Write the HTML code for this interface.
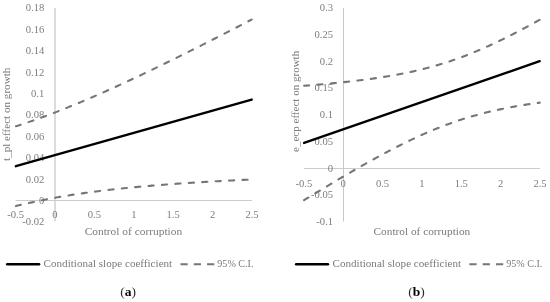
<!DOCTYPE html>
<html><head><meta charset="utf-8"><style>
html,body{margin:0;padding:0;background:#fff;}
svg{display:block;}
.tk{font-family:'Liberation Serif', serif;font-size:10.6px;fill:#7d7d7d;}
.tt{font-family:'Liberation Serif', serif;font-size:11px;fill:#7a7a7a;}
.cap{font-family:'Liberation Serif', serif;font-size:13.5px;fill:#2a2a2a;}
</style></head><body>
<svg width="550" height="302" viewBox="0 0 550 302">
<rect width="550" height="302" fill="#fff"/>
<g>
<line x1="55" y1="8" x2="55" y2="221.2" stroke="#b8b8b8" stroke-width="1"/>
<line x1="15.6" y1="200.5" x2="252" y2="200.5" stroke="#cccccc" stroke-width="1"/>
<text x="44.3" y="225.30" text-anchor="end" class="tk" textLength="22.08" lengthAdjust="spacingAndGlyphs">-0.02</text>
<text x="44.3" y="203.90" text-anchor="end" class="tk" textLength="5.30" lengthAdjust="spacingAndGlyphs">0</text>
<text x="44.3" y="182.50" text-anchor="end" class="tk" textLength="18.55" lengthAdjust="spacingAndGlyphs">0.02</text>
<text x="44.3" y="161.10" text-anchor="end" class="tk" textLength="18.55" lengthAdjust="spacingAndGlyphs">0.04</text>
<text x="44.3" y="139.70" text-anchor="end" class="tk" textLength="18.55" lengthAdjust="spacingAndGlyphs">0.06</text>
<text x="44.3" y="118.30" text-anchor="end" class="tk" textLength="18.55" lengthAdjust="spacingAndGlyphs">0.08</text>
<text x="44.3" y="96.90" text-anchor="end" class="tk" textLength="13.25" lengthAdjust="spacingAndGlyphs">0.1</text>
<text x="44.3" y="75.50" text-anchor="end" class="tk" textLength="18.55" lengthAdjust="spacingAndGlyphs">0.12</text>
<text x="44.3" y="54.10" text-anchor="end" class="tk" textLength="18.55" lengthAdjust="spacingAndGlyphs">0.14</text>
<text x="44.3" y="32.70" text-anchor="end" class="tk" textLength="18.55" lengthAdjust="spacingAndGlyphs">0.16</text>
<text x="44.3" y="11.30" text-anchor="end" class="tk" textLength="18.55" lengthAdjust="spacingAndGlyphs">0.18</text>
<text x="15.60" y="218.20" text-anchor="middle" class="tk" textLength="16.78" lengthAdjust="spacingAndGlyphs">-0.5</text>
<text x="55.00" y="218.20" text-anchor="middle" class="tk" textLength="5.30" lengthAdjust="spacingAndGlyphs">0</text>
<text x="94.40" y="218.20" text-anchor="middle" class="tk" textLength="13.25" lengthAdjust="spacingAndGlyphs">0.5</text>
<text x="133.80" y="218.20" text-anchor="middle" class="tk" textLength="5.30" lengthAdjust="spacingAndGlyphs">1</text>
<text x="173.20" y="218.20" text-anchor="middle" class="tk" textLength="13.25" lengthAdjust="spacingAndGlyphs">1.5</text>
<text x="212.60" y="218.20" text-anchor="middle" class="tk" textLength="5.30" lengthAdjust="spacingAndGlyphs">2</text>
<text x="252.00" y="218.20" text-anchor="middle" class="tk" textLength="13.25" lengthAdjust="spacingAndGlyphs">2.5</text>
<text x="133.4" y="234.9" text-anchor="middle" class="tt" textLength="97.5" lengthAdjust="spacingAndGlyphs">Control of corruption</text>
<text transform="translate(10.1,114.35) rotate(-90)" x="0" y="0" text-anchor="middle" class="tt" textLength="93.3" lengthAdjust="spacingAndGlyphs">t_pl effect on growth</text>
<path d="M15.90,126.27 L17.90,125.63 L19.90,124.98 L21.90,124.33 L23.90,123.66 L25.90,122.99 L27.90,122.32 L29.90,121.63 L31.90,120.94 L33.90,120.24 L35.90,119.54 L37.90,118.83 L39.90,118.11 L41.90,117.38 L43.90,116.65 L45.90,115.92 L47.90,115.17 L49.90,114.42 L51.90,113.66 L53.90,112.90 L55.90,112.13 L57.90,111.36 L59.90,110.58 L61.90,109.79 L63.90,109.00 L65.90,108.20 L67.90,107.40 L69.90,106.59 L71.90,105.78 L73.90,104.96 L75.90,104.14 L77.90,103.31 L79.90,102.47 L81.90,101.63 L83.90,100.79 L85.90,99.94 L87.90,99.09 L89.90,98.23 L91.90,97.37 L93.90,96.50 L95.90,95.63 L97.90,94.76 L99.90,93.88 L101.90,92.99 L103.90,92.11 L105.90,91.21 L107.90,90.32 L109.90,89.42 L111.90,88.52 L113.90,87.61 L115.90,86.70 L117.90,85.79 L119.90,84.87 L121.90,83.96 L123.90,83.03 L125.90,82.11 L127.90,81.18 L129.90,80.25 L131.90,79.31 L133.90,78.37 L135.90,77.43 L137.90,76.49 L139.90,75.54 L141.90,74.59 L143.90,73.64 L145.90,72.69 L147.90,71.73 L149.90,70.77 L151.90,69.81 L153.90,68.84 L155.90,67.88 L157.90,66.91 L159.90,65.94 L161.90,64.96 L163.90,63.99 L165.90,63.01 L167.90,62.03 L169.90,61.05 L171.90,60.06 L173.90,59.08 L175.90,58.09 L177.90,57.10 L179.90,56.11 L181.90,55.12 L183.90,54.12 L185.90,53.13 L187.90,52.13 L189.90,51.13 L191.90,50.13 L193.90,49.12 L195.90,48.12 L197.90,47.11 L199.90,46.10 L201.90,45.10 L203.90,44.09 L205.90,43.07 L207.90,42.06 L209.90,41.05 L211.90,40.03 L213.90,39.01 L215.90,37.99 L217.90,36.97 L219.90,35.95 L221.90,34.93 L223.90,33.91 L225.90,32.88 L227.90,31.86 L229.90,30.83 L231.90,29.80 L233.90,28.77 L235.90,27.74 L237.90,26.71 L239.90,25.68 L241.90,24.64 L243.90,23.61 L245.90,22.57 L247.90,21.54 L249.90,20.50 L251.70,19.57" fill="none" stroke="#767676" stroke-width="2.1" stroke-dasharray="5.2 8.25" stroke-dashoffset="0.2" stroke-linecap="round"/>
<path d="M15.90,206.06 L17.90,205.57 L19.90,205.09 L21.90,204.61 L23.90,204.15 L25.90,203.69 L27.90,203.23 L29.90,202.79 L31.90,202.35 L33.90,201.91 L35.90,201.49 L37.90,201.07 L39.90,200.66 L41.90,200.25 L43.90,199.85 L45.90,199.46 L47.90,199.07 L49.90,198.69 L51.90,198.32 L53.90,197.95 L55.90,197.59 L57.90,197.23 L59.90,196.88 L61.90,196.54 L63.90,196.20 L65.90,195.87 L67.90,195.54 L69.90,195.22 L71.90,194.90 L73.90,194.59 L75.90,194.28 L77.90,193.98 L79.90,193.69 L81.90,193.39 L83.90,193.11 L85.90,192.83 L87.90,192.55 L89.90,192.28 L91.90,192.01 L93.90,191.74 L95.90,191.48 L97.90,191.23 L99.90,190.98 L101.90,190.73 L103.90,190.49 L105.90,190.25 L107.90,190.01 L109.90,189.78 L111.90,189.55 L113.90,189.33 L115.90,189.11 L117.90,188.89 L119.90,188.67 L121.90,188.46 L123.90,188.26 L125.90,188.05 L127.90,187.85 L129.90,187.65 L131.90,187.46 L133.90,187.27 L135.90,187.08 L137.90,186.89 L139.90,186.71 L141.90,186.52 L143.90,186.35 L145.90,186.17 L147.90,186.00 L149.90,185.83 L151.90,185.66 L153.90,185.49 L155.90,185.33 L157.90,185.17 L159.90,185.01 L161.90,184.85 L163.90,184.69 L165.90,184.54 L167.90,184.39 L169.90,184.24 L171.90,184.10 L173.90,183.95 L175.90,183.81 L177.90,183.67 L179.90,183.53 L181.90,183.39 L183.90,183.25 L185.90,183.12 L187.90,182.99 L189.90,182.86 L191.90,182.73 L193.90,182.60 L195.90,182.48 L197.90,182.35 L199.90,182.23 L201.90,182.11 L203.90,181.99 L205.90,181.87 L207.90,181.75 L209.90,181.64 L211.90,181.52 L213.90,181.41 L215.90,181.30 L217.90,181.19 L219.90,181.08 L221.90,180.97 L223.90,180.86 L225.90,180.76 L227.90,180.65 L229.90,180.55 L231.90,180.45 L233.90,180.35 L235.90,180.25 L237.90,180.15 L239.90,180.05 L241.90,179.95 L243.90,179.86 L245.90,179.76 L247.90,179.67 L249.90,179.57 L251.70,179.49" fill="none" stroke="#767676" stroke-width="2.1" stroke-dasharray="5.2 8.25" stroke-dashoffset="0.2" stroke-linecap="round"/>
<line x1="15.9" y1="166.17" x2="251.7" y2="99.53" stroke="#000" stroke-width="2.4" stroke-linecap="round"/>
<line x1="343.5" y1="8" x2="343.5" y2="221.5" stroke="#c8c8c8" stroke-width="1"/>
<line x1="303.8" y1="168.5" x2="540" y2="168.5" stroke="#cccccc" stroke-width="1"/>
<text x="333.1" y="225.20" text-anchor="end" class="tk" textLength="16.78" lengthAdjust="spacingAndGlyphs">-0.1</text>
<text x="333.1" y="198.45" text-anchor="end" class="tk" textLength="22.08" lengthAdjust="spacingAndGlyphs">-0.05</text>
<text x="333.1" y="171.70" text-anchor="end" class="tk" textLength="5.30" lengthAdjust="spacingAndGlyphs">0</text>
<text x="333.1" y="144.95" text-anchor="end" class="tk" textLength="18.55" lengthAdjust="spacingAndGlyphs">0.05</text>
<text x="333.1" y="118.20" text-anchor="end" class="tk" textLength="13.25" lengthAdjust="spacingAndGlyphs">0.1</text>
<text x="333.1" y="91.45" text-anchor="end" class="tk" textLength="18.55" lengthAdjust="spacingAndGlyphs">0.15</text>
<text x="333.1" y="64.70" text-anchor="end" class="tk" textLength="13.25" lengthAdjust="spacingAndGlyphs">0.2</text>
<text x="333.1" y="37.95" text-anchor="end" class="tk" textLength="18.55" lengthAdjust="spacingAndGlyphs">0.25</text>
<text x="333.1" y="11.20" text-anchor="end" class="tk" textLength="13.25" lengthAdjust="spacingAndGlyphs">0.3</text>
<text x="303.80" y="186.70" text-anchor="middle" class="tk" textLength="16.78" lengthAdjust="spacingAndGlyphs">-0.5</text>
<text x="343.17" y="186.70" text-anchor="middle" class="tk" textLength="5.30" lengthAdjust="spacingAndGlyphs">0</text>
<text x="382.53" y="186.70" text-anchor="middle" class="tk" textLength="13.25" lengthAdjust="spacingAndGlyphs">0.5</text>
<text x="421.90" y="186.70" text-anchor="middle" class="tk" textLength="5.30" lengthAdjust="spacingAndGlyphs">1</text>
<text x="461.27" y="186.70" text-anchor="middle" class="tk" textLength="13.25" lengthAdjust="spacingAndGlyphs">1.5</text>
<text x="500.63" y="186.70" text-anchor="middle" class="tk" textLength="5.30" lengthAdjust="spacingAndGlyphs">2</text>
<text x="540.00" y="186.70" text-anchor="middle" class="tk" textLength="13.25" lengthAdjust="spacingAndGlyphs">2.5</text>
<text x="421.9" y="234.9" text-anchor="middle" class="tt" textLength="96.7" lengthAdjust="spacingAndGlyphs">Control of corruption</text>
<text transform="translate(298.7,101.40) rotate(-90)" x="0" y="0" text-anchor="middle" class="tt" textLength="101.2" lengthAdjust="spacingAndGlyphs">e_ecp effect on growth</text>
<path d="M304.10,85.76 L306.10,85.61 L308.10,85.45 L310.10,85.28 L312.10,85.12 L314.10,84.95 L316.10,84.78 L318.10,84.61 L320.10,84.43 L322.10,84.26 L324.10,84.08 L326.10,83.89 L328.10,83.71 L330.10,83.52 L332.10,83.33 L334.10,83.13 L336.10,82.93 L338.10,82.73 L340.10,82.53 L342.10,82.32 L344.10,82.11 L346.10,81.89 L348.10,81.67 L350.10,81.44 L352.10,81.22 L354.10,80.98 L356.10,80.74 L358.10,80.50 L360.10,80.26 L362.10,80.00 L364.10,79.75 L366.10,79.49 L368.10,79.22 L370.10,78.95 L372.10,78.67 L374.10,78.38 L376.10,78.09 L378.10,77.80 L380.10,77.49 L382.10,77.18 L384.10,76.87 L386.10,76.54 L388.10,76.21 L390.10,75.87 L392.10,75.53 L394.10,75.17 L396.10,74.81 L398.10,74.44 L400.10,74.06 L402.10,73.68 L404.10,73.28 L406.10,72.87 L408.10,72.46 L410.10,72.03 L412.10,71.60 L414.10,71.15 L416.10,70.70 L418.10,70.23 L420.10,69.76 L422.10,69.27 L424.10,68.77 L426.10,68.26 L428.10,67.73 L430.10,67.20 L432.10,66.65 L434.10,66.10 L436.10,65.52 L438.10,64.94 L440.10,64.34 L442.10,63.74 L444.10,63.11 L446.10,62.48 L448.10,61.83 L450.10,61.17 L452.10,60.50 L454.10,59.81 L456.10,59.11 L458.10,58.40 L460.10,57.67 L462.10,56.93 L464.10,56.18 L466.10,55.41 L468.10,54.63 L470.10,53.84 L472.10,53.04 L474.10,52.22 L476.10,51.39 L478.10,50.55 L480.10,49.70 L482.10,48.84 L484.10,47.96 L486.10,47.07 L488.10,46.17 L490.10,45.26 L492.10,44.34 L494.10,43.41 L496.10,42.47 L498.10,41.51 L500.10,40.55 L502.10,39.58 L504.10,38.60 L506.10,37.61 L508.10,36.61 L510.10,35.60 L512.10,34.58 L514.10,33.55 L516.10,32.52 L518.10,31.48 L520.10,30.43 L522.10,29.37 L524.10,28.31 L526.10,27.24 L528.10,26.16 L530.10,25.07 L532.10,23.98 L534.10,22.89 L536.10,21.78 L538.10,20.67 L539.70,19.78" fill="none" stroke="#767676" stroke-width="2.1" stroke-dasharray="5.2 8.25" stroke-dashoffset="0.2" stroke-linecap="round"/>
<path d="M304.10,200.17 L306.10,198.94 L308.10,197.71 L310.10,196.48 L312.10,195.26 L314.10,194.04 L316.10,192.82 L318.10,191.61 L320.10,190.39 L322.10,189.18 L324.10,187.97 L326.10,186.77 L328.10,185.57 L330.10,184.37 L332.10,183.17 L334.10,181.98 L336.10,180.79 L338.10,179.60 L340.10,178.42 L342.10,177.24 L344.10,176.07 L346.10,174.89 L348.10,173.73 L350.10,172.56 L352.10,171.40 L354.10,170.25 L356.10,169.10 L358.10,167.95 L360.10,166.81 L362.10,165.67 L364.10,164.54 L366.10,163.42 L368.10,162.30 L370.10,161.18 L372.10,160.07 L374.10,158.97 L376.10,157.87 L378.10,156.78 L380.10,155.69 L382.10,154.62 L384.10,153.54 L386.10,152.48 L388.10,151.42 L390.10,150.37 L392.10,149.33 L394.10,148.30 L396.10,147.27 L398.10,146.25 L400.10,145.24 L402.10,144.24 L404.10,143.25 L406.10,142.27 L408.10,141.30 L410.10,140.33 L412.10,139.38 L414.10,138.44 L416.10,137.50 L418.10,136.58 L420.10,135.67 L422.10,134.77 L424.10,133.88 L426.10,133.01 L428.10,132.14 L430.10,131.29 L432.10,130.44 L434.10,129.62 L436.10,128.80 L438.10,127.99 L440.10,127.20 L442.10,126.42 L444.10,125.66 L446.10,124.90 L448.10,124.16 L450.10,123.44 L452.10,122.72 L454.10,122.02 L456.10,121.33 L458.10,120.66 L460.10,120.00 L462.10,119.35 L464.10,118.71 L466.10,118.09 L468.10,117.48 L470.10,116.88 L472.10,116.30 L474.10,115.73 L476.10,115.17 L478.10,114.62 L480.10,114.09 L482.10,113.56 L484.10,113.05 L486.10,112.55 L488.10,112.06 L490.10,111.59 L492.10,111.12 L494.10,110.66 L496.10,110.22 L498.10,109.78 L500.10,109.36 L502.10,108.94 L504.10,108.53 L506.10,108.14 L508.10,107.75 L510.10,107.37 L512.10,107.00 L514.10,106.64 L516.10,106.28 L518.10,105.94 L520.10,105.60 L522.10,105.27 L524.10,104.94 L526.10,104.63 L528.10,104.32 L530.10,104.01 L532.10,103.71 L534.10,103.42 L536.10,103.14 L538.10,102.86 L539.70,102.64" fill="none" stroke="#767676" stroke-width="2.1" stroke-dasharray="5.2 8.25" stroke-dashoffset="0.2" stroke-linecap="round"/>
<line x1="304.1" y1="142.97" x2="539.7" y2="61.21" stroke="#000" stroke-width="2.4" stroke-linecap="round"/>
<line x1="7.2" y1="264.3" x2="39.1" y2="264.3" stroke="#000" stroke-width="2.4" stroke-linecap="round"/>
<text x="43.6" y="267" class="tt" textLength="128.6" lengthAdjust="spacingAndGlyphs">Conditional slope coefficient</text>
<line x1="180.5" y1="264.3" x2="214.3" y2="264.3" stroke="#767676" stroke-width="2.1" stroke-dasharray="7.2 6.1"/>
<text x="217.3" y="267" class="tt" textLength="36.2" lengthAdjust="spacingAndGlyphs">95% C.I.</text>
<line x1="296.09999999999997" y1="264.3" x2="328.0" y2="264.3" stroke="#000" stroke-width="2.4" stroke-linecap="round"/>
<text x="332.5" y="267" class="tt" textLength="128.6" lengthAdjust="spacingAndGlyphs">Conditional slope coefficient</text>
<line x1="469.4" y1="264.3" x2="503.2" y2="264.3" stroke="#767676" stroke-width="2.1" stroke-dasharray="7.2 6.1"/>
<text x="506.2" y="267" class="tt" textLength="36.2" lengthAdjust="spacingAndGlyphs">95% C.I.</text>
<text x="128.1" y="296.3" text-anchor="middle" class="cap">(<tspan font-weight="bold" fill="#000">a</tspan>)</text>
<text x="416.5" y="296.3" text-anchor="middle" class="cap">(<tspan font-weight="bold" fill="#000">b</tspan>)</text>
</g>
</svg>
</body></html>
